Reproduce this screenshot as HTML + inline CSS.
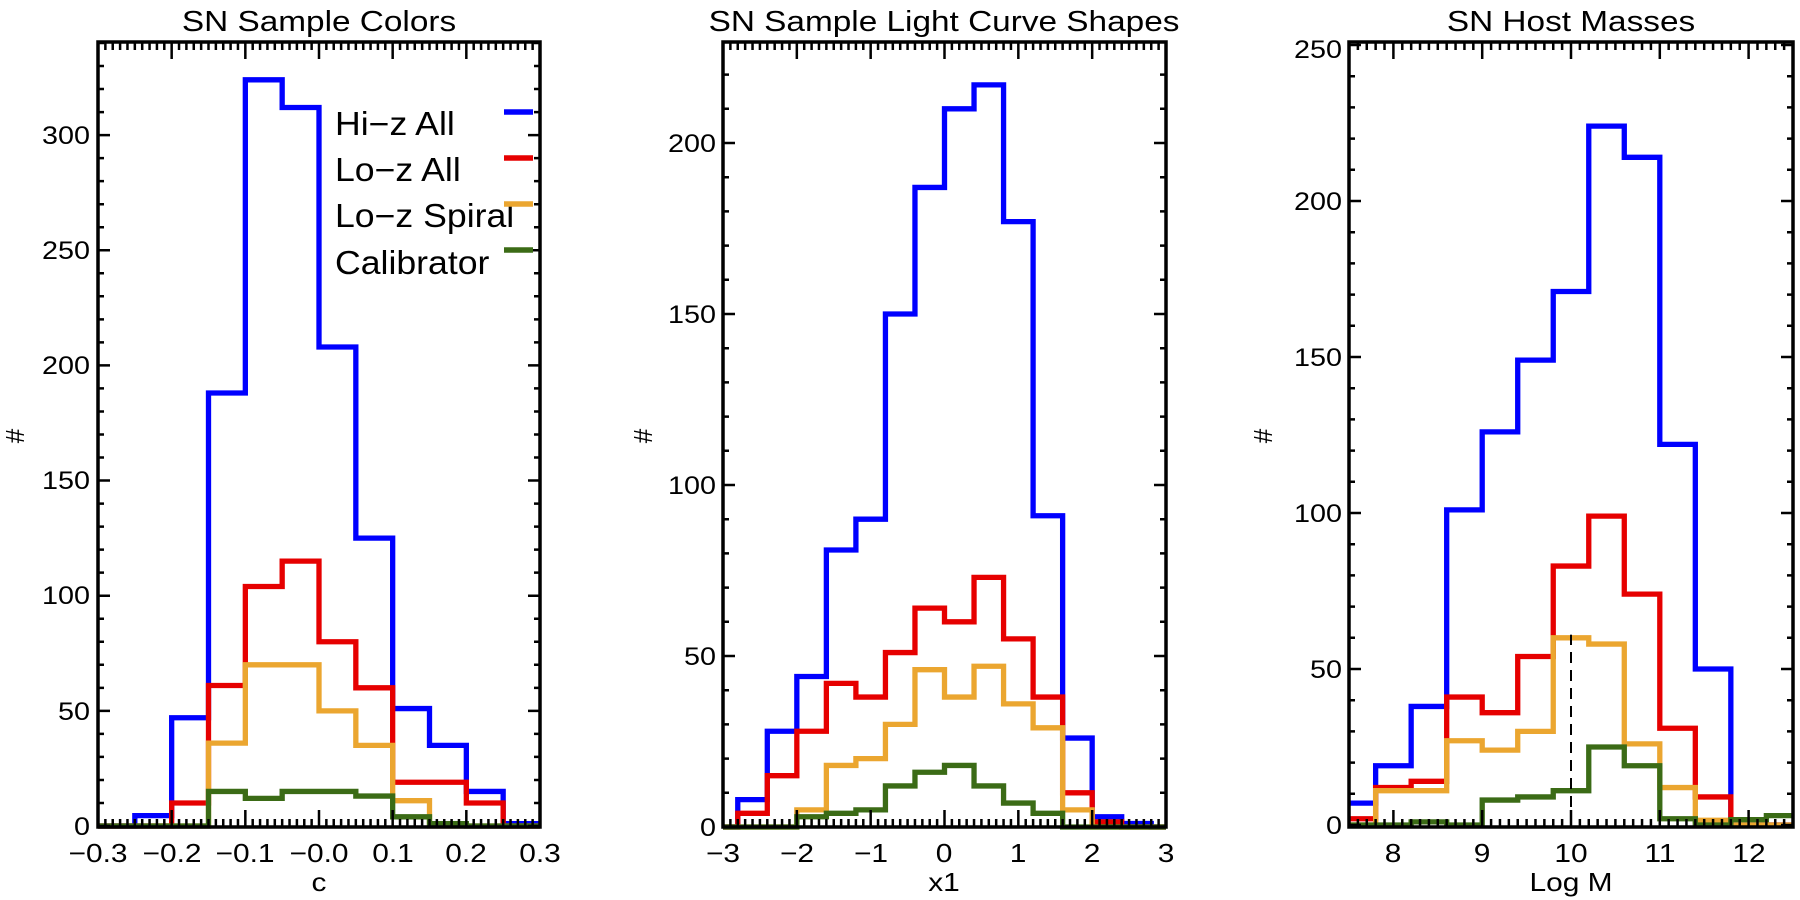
<!DOCTYPE html>
<html><head><meta charset="utf-8"><style>
html,body{margin:0;padding:0;background:#fff;}
svg{display:block;}
text{font-family:"Liberation Sans",Arial,sans-serif;fill:#000;}
</style></head><body>
<svg id="s" width="1800" height="900" xmlns="http://www.w3.org/2000/svg">
<g id="plots"></g>
<text transform="translate(319,31) scale(1.15,1)" text-anchor="middle" font-size="29">SN Sample Colors</text>
<text transform="translate(944,31) scale(1.15,1)" text-anchor="middle" font-size="29">SN Sample Light Curve Shapes</text>
<text transform="translate(1571,31) scale(1.15,1)" text-anchor="middle" font-size="29">SN Host Masses</text>
<g font-size="25" text-anchor="end">
<text transform="translate(90,835) scale(1.15,1)">0</text>
<text transform="translate(90,720) scale(1.15,1)">50</text>
<text transform="translate(90,604) scale(1.15,1)">100</text>
<text transform="translate(90,489) scale(1.15,1)">150</text>
<text transform="translate(90,374) scale(1.15,1)">200</text>
<text transform="translate(90,259) scale(1.15,1)">250</text>
<text transform="translate(90,144) scale(1.15,1)">300</text>
<text transform="translate(716,836) scale(1.15,1)">0</text>
<text transform="translate(716,665) scale(1.15,1)">50</text>
<text transform="translate(716,494) scale(1.15,1)">100</text>
<text transform="translate(716,323) scale(1.15,1)">150</text>
<text transform="translate(716,152) scale(1.15,1)">200</text>
<text transform="translate(1342,834) scale(1.15,1)">0</text>
<text transform="translate(1342,678) scale(1.15,1)">50</text>
<text transform="translate(1342,522) scale(1.15,1)">100</text>
<text transform="translate(1342,366) scale(1.15,1)">150</text>
<text transform="translate(1342,210) scale(1.15,1)">200</text>
<text transform="translate(1342,58) scale(1.15,1)">250</text>
</g>
<g font-size="26" text-anchor="middle">
<text transform="translate(98,862) scale(1.15,1)">−0.3</text>
<text transform="translate(172,862) scale(1.15,1)">−0.2</text>
<text transform="translate(245,862) scale(1.15,1)">−0.1</text>
<text transform="translate(319,862) scale(1.15,1)">−0.0</text>
<text transform="translate(393,862) scale(1.15,1)">0.1</text>
<text transform="translate(466,862) scale(1.15,1)">0.2</text>
<text transform="translate(540,862) scale(1.15,1)">0.3</text>
<text transform="translate(723,862) scale(1.15,1)">−3</text>
<text transform="translate(797,862) scale(1.15,1)">−2</text>
<text transform="translate(871,862) scale(1.15,1)">−1</text>
<text transform="translate(944,862) scale(1.15,1)">0</text>
<text transform="translate(1018,862) scale(1.15,1)">1</text>
<text transform="translate(1092,862) scale(1.15,1)">2</text>
<text transform="translate(1166,862) scale(1.15,1)">3</text>
<text transform="translate(1393,862) scale(1.15,1)">8</text>
<text transform="translate(1482,862) scale(1.15,1)">9</text>
<text transform="translate(1571,862) scale(1.15,1)">10</text>
<text transform="translate(1660,862) scale(1.15,1)">11</text>
<text transform="translate(1749,862) scale(1.15,1)">12</text>
</g>
<g font-size="26" text-anchor="middle">
<text transform="translate(319,891) scale(1.15,1)">c</text>
<text transform="translate(944,891) scale(1.15,1)">x1</text>
<text transform="translate(1571,891) scale(1.15,1)">Log M</text>
<text transform="translate(24,436) rotate(-90)">#</text>
<text transform="translate(652,436) rotate(-90)">#</text>
<text transform="translate(1272,436) rotate(-90)">#</text>
</g>
<g font-size="33">
<text transform="translate(335,135) scale(1.08,1)">Hi−z All</text>
<text transform="translate(335,181) scale(1.08,1)">Lo−z All</text>
<text transform="translate(335,227) scale(1.08,1)">Lo−z Spiral</text>
<text transform="translate(335,274) scale(1.08,1)">Calibrator</text>
</g>
<g stroke-width="5.5">
<line x1="504" y1="112" x2="533" y2="112" stroke="#0000ff"/>
<line x1="504" y1="158" x2="533" y2="158" stroke="#e60000"/>
<line x1="504" y1="204" x2="533" y2="204" stroke="#eba630"/>
<line x1="504" y1="250" x2="533" y2="250" stroke="#3b6b16"/>
</g>
</svg>
<script>
(function(){
var NS="http://www.w3.org/2000/svg";
var g=document.getElementById("plots");
function el(n,a){var e=document.createElementNS(NS,n);for(var k in a)e.setAttribute(k,a[k]);g.appendChild(e);return e;}
var C={b:"#0000ff",r:"#e60000",o:"#eba630",g:"#3b6b16"};
function panel(P){
  function X(v){return P.L+(v-P.xmin)/(P.xmax-P.xmin)*(P.R-P.L);}
  function Y(v){return P.y0-v*P.ys;}
  ["b","r","o","g"].forEach(function(k){
    var e=P.edges,v=P[k],d="M"+X(e[0])+" "+Y(v[0]);
    for(var i=0;i<v.length;i++){
      if(i>0)d+=" V"+Y(v[i]);
      d+=" H"+X(e[i+1]);
    }
    el("path",{d:d,fill:"none",stroke:C[k],"stroke-width":5.3,"stroke-linejoin":"miter"});
  });
  if(P.dash)el("line",{x1:X(10),x2:X(10),y1:P.y0,y2:Y(61),stroke:"#000","stroke-width":2,"stroke-dasharray":"11,7"});
  el("rect",{x:P.L,y:42,width:P.R-P.L,height:827-42,fill:"none",stroke:"#000","stroke-width":3.5});
  var d="";
  var n=Math.round((P.xmax-P.xmin)/P.xminor);
  for(var i=0;i<=n;i++){
    var v=P.xmin+i*P.xminor,x=X(v);
    var maj=Math.abs(v/P.xmajor-Math.round(v/P.xmajor))<1e-6;
    var len=maj?17:8;
    d+="M"+x+" 827 V"+(827-len)+" M"+x+" 42 V"+(42+len)+" ";
  }
  for(var v=0;Y(v)>=42;v+=10){
    var y=Y(v),len=(v%50==0)?12:6;
    d+="M"+P.L+" "+y+" H"+(P.L+len)+" M"+P.R+" "+y+" H"+(P.R-len)+" ";
  }
  el("path",{d:d,stroke:"#000","stroke-width":2.5,fill:"none"});
}
var e1=[];for(var i=0;i<=12;i++)e1.push(-0.3+i*0.05);
panel({L:98,R:540,xmin:-0.3,xmax:0.3,y0:826,ys:2.303,xminor:0.01,xmajor:0.1,edges:e1,
 b:[0,4.5,47,188,324,312,208,125,51,35,15,1],
 r:[0,0,10,61,104,115,80,60,19,19,10,0],
 o:[0,0,0,36,70,70,50,35,11,0,0,0],
 g:[0,0,0,15,12,15,15,13,4,1,0,0]});
var e2=[-3];for(var x=-2.8;x<2.85;x+=0.4)e2.push(Math.round(x*10)/10);e2.push(3);
panel({L:723,R:1166,xmin:-3,xmax:3,y0:827,ys:3.42,xminor:0.1,xmajor:1,edges:e2,
 b:[0,8,28,44,81,90,150,187,210,217,177,91,26,3,1,0],
 r:[0,4,15,28,42,38,51,64,60,73,55,38,10,1.5,0,0],
 o:[0,0,0,5,18,20,30,46,38,47,36,29,5,0,0,0],
 g:[0,0,0,3,4,5,12,16,18,12,7,4,0,0,0,0]});
var e3=[7.5];for(var x=7.8;x<12.25;x+=0.4)e3.push(Math.round(x*10)/10);e3.push(12.5);
panel({L:1349,R:1793,xmin:7.5,xmax:12.5,y0:825,ys:3.12,xminor:0.1,xmajor:1,edges:e3,dash:true,
 b:[7,19,38,101,126,149,171,224,214,122,50,0,0],
 r:[2,12,14,41,36,54,83,99,74,31,9,0,0],
 o:[0,11,11,27,24,30,60,58,26,12,1.5,0,0],
 g:[0,0,1,0,8,9,11,25,19,2,0,1.7,3]});
})();
</script>
</body></html>
